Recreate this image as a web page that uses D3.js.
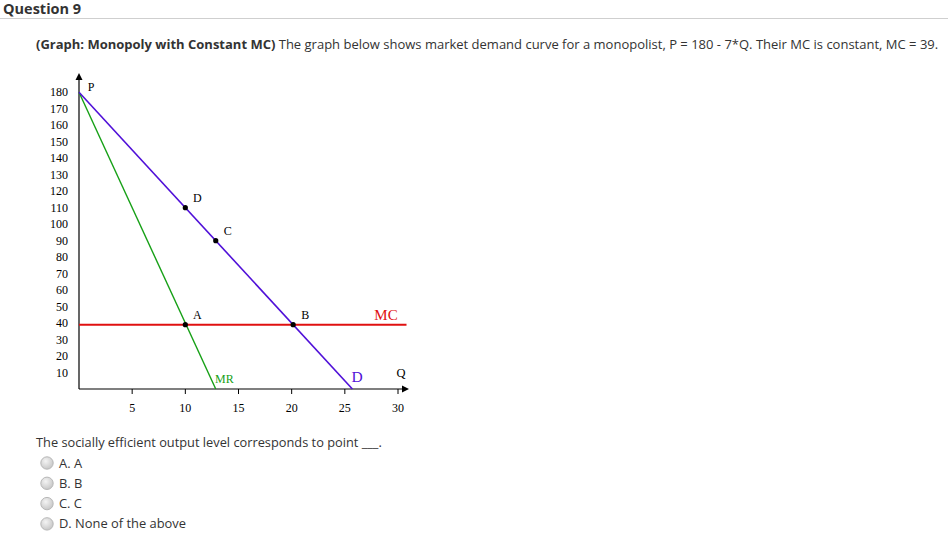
<!DOCTYPE html>
<html>
<head>
<meta charset="utf-8">
<script src="https://cdn.jsdelivr.net/npm/d3@7"></script>
<style>
body { margin:0; background:#fff; }
svg text { font-family: "Liberation Serif", serif; }
.ui { font-family: "Open Sans", sans-serif; fill:#333; }
</style>
</head>
<body>
<div id="chart"></div>
<script>
// tick values
var qTicks = [5, 10, 15, 20, 25, 30];
var pTicks = [10, 20, 30, 40, 50, 60, 70, 80, 90, 100, 110, 120, 130, 140, 150, 160, 170, 180];

// curves (Q, P)
var demand = [{q:0, p:180}, {q:25.71, p:0}];
var mr = [{q:0, p:180}, {q:12.86, p:0}];
var mc = [{q:0, p:39}, {q:30.8, p:39}];

// labelled points
var points = [
    {label:"D", q:10, p:110},
    {label:"C", q:12.86, p:90},
    {label:"A", q:10, p:39},
    {label:"B", q:20.14, p:39}
];

var answers = ["A. A", "B. B", "C. C", "D. None of the above"];

var W = 948, H = 547;

var svg = d3.select("#chart").append("svg")
    .attr("width", W)
    .attr("height", H);

// header
svg.append("text").attr("class", "ui")
    .attr("x", 3).attr("y", 14)
    .attr("font-size", "14.5px").attr("font-weight", "bold")
    .text("Question 9");
svg.append("line")
    .attr("x1", 0).attr("x2", W).attr("y1", 18.5).attr("y2", 18.5)
    .attr("stroke", "#cfcfcf");

var q = svg.append("text").attr("class", "ui")
    .attr("x", 36).attr("y", 49)
    .attr("font-size", "13px");
q.append("tspan").attr("font-weight", "bold").text("(Graph: Monopoly with Constant MC)");
q.append("tspan").text(" The graph below shows market demand curve for a monopolist, P = 180 - 7*Q. Their MC is constant, MC = 39.");

// scales
var x = d3.scaleLinear().domain([0, 30]).range([79, 398]);
var y = d3.scaleLinear().domain([0, 180]).range([389, 92.3]);

var g = svg.append("g");

// y axis
g.append("line")
    .attr("x1", x(0)).attr("x2", x(0)).attr("y1", y(0)).attr("y2", 78)
    .attr("stroke", "#000").attr("stroke-width", 1.2);
g.append("path")
    .attr("d", "M" + x(0) + ",73 l-3.5,7 l7,0 z")
    .attr("fill", "#000");
g.selectAll(".ylab").data(pTicks).enter().append("text")
    .attr("class", "ylab")
    .attr("x", 68).attr("y", function(d) { return y(d) + 4; })
    .attr("text-anchor", "end")
    .attr("font-size", "12px")
    .text(function(d) { return d; });

// x axis
g.append("line")
    .attr("x1", x(0)).attr("x2", 405).attr("y1", y(0)).attr("y2", y(0))
    .attr("stroke", "#000").attr("stroke-width", 1.2);
g.append("path")
    .attr("d", "M409," + y(0) + " l-7,-3.5 l0,7 z")
    .attr("fill", "#000");
g.selectAll(".xtick").data(qTicks).enter().append("line")
    .attr("class", "xtick")
    .attr("x1", function(d) { return x(d); }).attr("x2", function(d) { return x(d); })
    .attr("y1", y(0)).attr("y2", y(0) + 5)
    .attr("stroke", "#000");
g.selectAll(".xlab").data(qTicks).enter().append("text")
    .attr("class", "xlab")
    .attr("x", function(d) { return x(d); }).attr("y", 412)
    .attr("text-anchor", "middle")
    .attr("font-size", "12px")
    .text(function(d) { return d; });

var line = d3.line()
    .x(function(d) { return x(d.q); })
    .y(function(d) { return y(d.p); });

g.append("path").datum(mc).attr("d", line)
    .attr("stroke", "#e01010").attr("stroke-width", 2).attr("fill", "none");
g.append("path").datum(mr).attr("d", line)
    .attr("stroke", "#16a016").attr("stroke-width", 1.4).attr("fill", "none");
g.append("path").datum(demand).attr("d", line)
    .attr("stroke", "#5010d8").attr("stroke-width", 1.6).attr("fill", "none");

// points
g.selectAll(".pt").data(points).enter().append("circle")
    .attr("class", "pt")
    .attr("cx", function(d) { return x(d.q); })
    .attr("cy", function(d) { return y(d.p); })
    .attr("r", 2.6)
    .attr("fill", "#000");
g.selectAll(".ptlab").data(points).enter().append("text")
    .attr("class", "ptlab")
    .attr("x", function(d) { return x(d.q) + 12; })
    .attr("y", function(d) { return y(d.p) - 6; })
    .attr("text-anchor", "middle")
    .attr("font-size", "12px")
    .text(function(d) { return d.label; });

// curve labels
g.append("text").attr("x", 91).attr("y", 91).attr("text-anchor", "middle")
    .attr("font-size", "12px").text("P");
g.append("text").attr("x", 401).attr("y", 377).attr("text-anchor", "middle")
    .attr("font-size", "12.5px").text("Q");
g.append("text").attr("x", 386).attr("y", 320).attr("text-anchor", "middle")
    .attr("font-size", "15px").attr("fill", "#e01010").text("MC");
g.append("text").attr("x", 215).attr("y", 383)
    .attr("font-size", "12px").attr("fill", "#16a016").text("MR");
g.append("text").attr("x", 357).attr("y", 382).attr("text-anchor", "middle")
    .attr("font-size", "15.5px").attr("fill", "#5010d8").text("D");

// question and options
svg.append("text").attr("class", "ui")
    .attr("x", 36).attr("y", 447)
    .attr("font-size", "12.8px")
    .text("The socially efficient output level corresponds to point ___.");

var grad = svg.append("defs").append("radialGradient")
    .attr("id", "rad").attr("cx", "40%").attr("cy", "35%").attr("r", "70%");
grad.append("stop").attr("offset", "0%").attr("stop-color", "#f4f4f4");
grad.append("stop").attr("offset", "100%").attr("stop-color", "#c4c4c4");

var opt = svg.selectAll(".opt").data(answers).enter().append("g")
    .attr("class", "opt")
    .attr("transform", function(d, i) { return "translate(47," + (463 + i * 20.3) + ")"; });
opt.append("circle")
    .attr("r", 6.2)
    .attr("fill", "url(#rad)")
    .attr("stroke", "#b8b8b8");
opt.append("text").attr("class", "ui")
    .attr("x", 12).attr("y", 4.5)
    .attr("font-size", "12.9px")
    .text(function(d) { return d; });
</script>
</body>
</html>
